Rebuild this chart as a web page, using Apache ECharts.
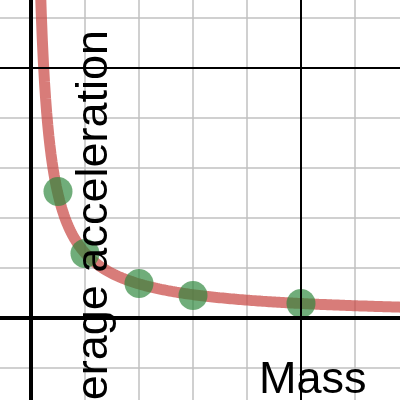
<!DOCTYPE html>
<html><head><meta charset="utf-8">
<script src="https://cdn.jsdelivr.net/npm/echarts@6/dist/echarts.min.js"></script>
<style>html,body{margin:0;padding:0;background:#fff;overflow:hidden;width:400px;height:400px}#c{position:absolute;left:-23px;top:-32px;width:486px;height:450px}</style>
</head><body><div id="c"></div>
<script>
const massValues = [0.5, 1, 2, 3, 5];
const accelValues = [2.53, 1.29, 0.69, 0.45, 0.29];
const fitA = 1.3, fitB = -0.93; // power fit y = a*x^b
const xLabel = 'Mass';
const yLabel = 'Average acceleration';

const curve = [];
for (let x = 0.11; x <= 8; x += 0.02) curve.push([x, fitA * Math.pow(x, fitB)]);
const pts = massValues.map((m, i) => [m, accelValues[i]]);
const OX = 23, OY = 32;

const chart = echarts.init(document.getElementById('c'));
chart.setOption({
  animation: false,
  grid: {left: 0, right: 0, top: 0, bottom: 0},
  xAxis: {type: 'value', min: -1, max: 8, interval: 1,
    axisLine: {show: false}, axisTick: {show: false}, axisLabel: {show: false},
    splitLine: {lineStyle: {color: '#c0c0c0', width: 1.5}}},
  yAxis: {type: 'value', min: -2, max: 7, interval: 1,
    axisLine: {show: false}, axisTick: {show: false}, axisLabel: {show: false},
    splitLine: {lineStyle: {color: '#c0c0c0', width: 1.5}}},
  series: [
    {type: 'line', data: [], markLine: {silent: true, symbol: 'none', label: {show: false},
      data: [
        {xAxis: 5, lineStyle: {width: 2, color: '#000', type: 'solid'}},
        {yAxis: 5, lineStyle: {width: 2, color: '#000', type: 'solid'}},
        {xAxis: 0, lineStyle: {width: 4, color: '#000', type: 'solid'}},
        {yAxis: 0, lineStyle: {width: 4, color: '#000', type: 'solid'}}
      ]}},
    {type: 'line', data: curve, showSymbol: false, smooth: false, z: 3,
      lineStyle: {color: 'rgba(199,68,64,0.7)', width: 11}},
    {type: 'scatter', data: pts, symbolSize: 29, z: 4,
      itemStyle: {color: 'rgba(45,135,60,0.85)'}}
  ],
  graphic: [
    {type: 'text', x: 259 + OX, y: 358 + OY, z: 10, style: {text: xLabel, font: '45px "Liberation Sans", Arial', fill: '#000', textVerticalAlign: 'alphabetic', textBaseline: 'alphabetic'}},
    {type: 'text', x: 72 + OX, y: 30 + OY, rotation: Math.PI / 2, z: 10, style: {text: yLabel, font: '45px "Liberation Sans", Arial', fill: '#000', align: 'right', textAlign: 'right', textVerticalAlign: 'alphabetic', textBaseline: 'alphabetic'}}
  ]
});
</script></body></html>
